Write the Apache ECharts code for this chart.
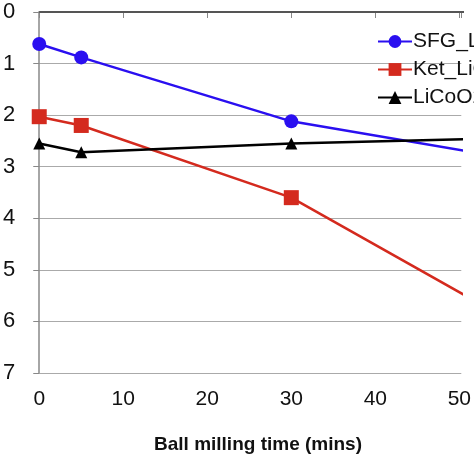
<!DOCTYPE html>
<html>
<head>
<meta charset="utf-8">
<script src="https://cdn.jsdelivr.net/npm/echarts@6/dist/echarts.min.js"></script>
<style>html,body{margin:0;padding:0;background:#fff}#main{width:474px;height:474px}</style>
</head>
<body>
<div id="main"></div>
<script>
var times = [0, 5, 30, 60];
var sfg = [0.62, 0.88, 2.12, 2.95];
var ket = [2.03, 2.2, 3.6, 6.35];
var licoo = [2.55, 2.72, 2.55, 2.43];
var names = ["SFG_LiCoO2", "Ket_LiCoO2", "LiCoO2"];

function pts(v) { return times.map(function (t, i) { return [t, v[i]]; }); }

var chart = echarts.init(document.getElementById("main"));
var font = "Liberation Sans, Arial, sans-serif";
chart.setOption({
    animation: false,
    grid: { left: 32, right: 0, top: 12, bottom: 101 },
    title: {
        text: "Ball milling time (mins)", left: 253, top: 430, textAlign: "center",
        textStyle: { fontFamily: font, fontSize: 19, fontWeight: "bold", color: "#111" }
    },
    legend: {
        left: 372, top: 26, orient: "vertical", itemGap: 7, itemWidth: 34, itemHeight: 16,
        textStyle: { fontFamily: font, fontSize: 21, color: "#111", padding: [0, 0, 0, -4] },
        data: names
    },
    xAxis: {
        type: "value", min: 0, max: 50.23, interval: 10,
        axisLine: { lineStyle: { color: "#888", width: 1.5 } },
        axisTick: { show: true, length: 6, lineStyle: { color: "#888" } },
        splitLine: { show: false },
        axisLabel: { fontFamily: font, fontSize: 21, color: "#111", margin: 16,
            formatter: function (v) { return v % 10 === 0 ? String(v) : ""; } }
    },
    yAxis: {
        type: "value", min: 0, max: 7, interval: 1, inverse: true,
        axisLine: { show: true, lineStyle: { color: "#888", width: 1.5 } },
        axisTick: { show: true, length: 6, lineStyle: { color: "#888" } },
        splitLine: { lineStyle: { color: "#aaa", width: 1 } },
        axisLabel: { fontFamily: font, fontSize: 22, color: "#111", margin: 24 }
    },
    series: [
        { name: names[0], type: "line", data: pts(sfg), symbol: "circle", symbolSize: 14,
          itemStyle: { color: "#2a0ff0" }, lineStyle: { width: 2.5, color: "#2a0ff0" } },
        { name: names[1], type: "line", data: pts(ket), symbol: "rect", symbolSize: 15,
          itemStyle: { color: "#d42a1e" }, lineStyle: { width: 2.5, color: "#d42a1e" } },
        { name: names[2], type: "line", data: pts(licoo), symbol: "triangle", symbolSize: 12,
          itemStyle: { color: "#000" }, lineStyle: { width: 2.5, color: "#000" } },
        { type: "line", data: [[0, 0], [60, 0]], symbol: "none", silent: true,
          lineStyle: { color: "#555", width: 2 }, z: 1 }
    ]
});
</script>
</body>
</html>
